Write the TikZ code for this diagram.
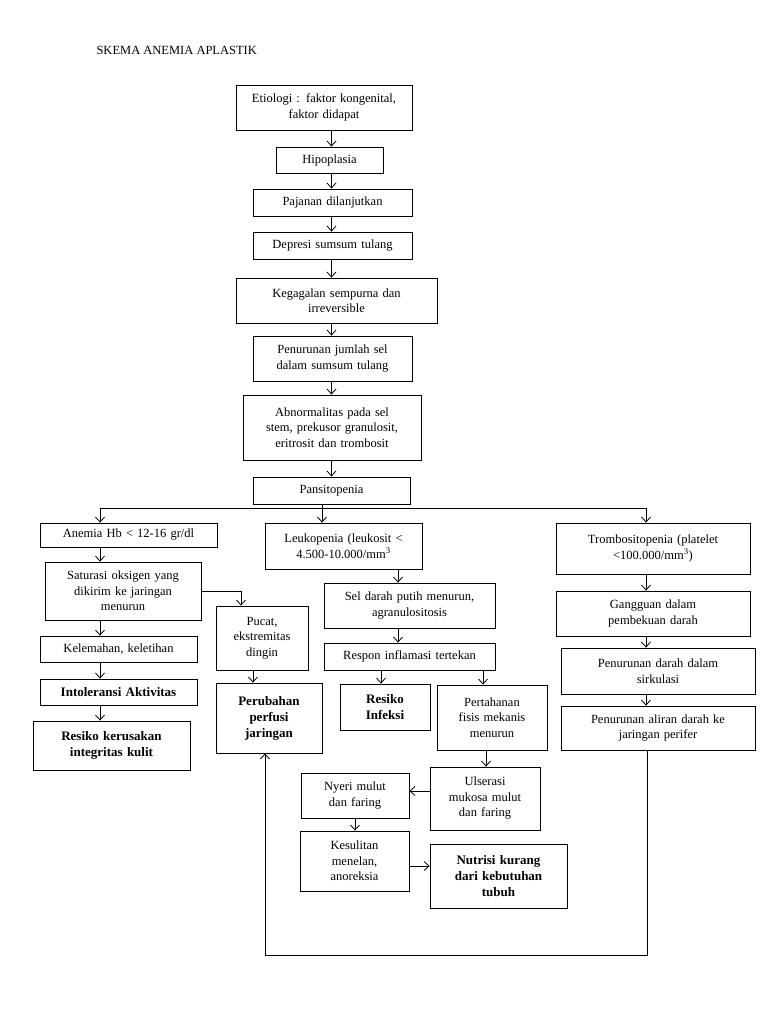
\documentclass[tikz,border=0pt]{standalone}
\usepackage{fontspec}
\setmainfont{Liberation Serif}
\usetikzlibrary{positioning}

\tikzset{
    box/.style={draw,thick,align=center,inner sep=1pt,font=\fontsize{12.5}{15.5}\selectfont},
    tebal/.style={box,font=\fontsize{13}{16}\selectfont\bfseries},
    panah/.style={thick,->,>={Straight Barb[length=5pt,width=9pt]}}
}
\usetikzlibrary{arrows.meta}

% kotak dari sudut kiri-atas (x1,y1) ke kanan-bawah (x2,y2), dalam piksel
\newcommand{\kotak}[7][box]{%
    \node[#1,minimum width={#4-#2},minimum height={#5-#3},text width={#4-#2-10}]
        (#6) at ({(#2+#4)/2},{(#3+#5)/2}) {#7};}

\begin{document}
\begin{tikzpicture}[x=1pt,y=-1pt]
    \useasboundingbox (0,0) rectangle (768,1024);
    \node[anchor=west,font=\fontsize{12.5}{15}\selectfont] (judul) at (93,50) {SKEMA ANEMIA APLASTIK};

    % jalur utama
    \kotak{236}{85}{412}{130}{etio}{Etiologi : faktor kongenital,\\ faktor didapat}
    \kotak{276}{147}{383}{173}{hipo}{Hipoplasia}
    \kotak{253}{189}{412}{216}{pajan}{Pajanan dilanjutkan}
    \kotak{253}{232}{412}{259}{depresi}{Depresi sumsum tulang}
    \kotak{236}{278}{437}{323}{gagal}{Kegagalan sempurna dan\\ irreversible}
    \kotak{253}{336}{412}{381}{turun}{Penurunan jumlah sel\\ dalam sumsum tulang}
    \kotak{243}{395}{421}{460}{abnorm}{Abnormalitas pada sel\\ stem, prekusor granulosit,\\ eritrosit dan trombosit}
    \kotak{253}{477}{410}{504}{pansi}{Pansitopenia}

    % cabang anemia
    \kotak{40}{523}{217}{547}{anemia}{Anemia Hb < 12-16 gr/dl}
    \kotak{45}{562}{201}{620}{satur}{Saturasi oksigen yang\\ dikirim ke jaringan\\ menurun}
    \kotak{40}{636}{197}{662}{lemah}{Kelemahan, keletihan}
    \kotak[tebal]{40}{679}{197}{705}{intol}{Intoleransi Aktivitas}
    \kotak[tebal]{33}{721}{190}{770}{kulit}{Resiko kerusakan\\ integritas kulit}
    \kotak{216}{606}{308}{670}{pucat}{Pucat,\\ ekstremitas\\ dingin}
    \kotak[tebal]{216}{683}{322}{753}{perfusi}{Perubahan\\ perfusi\\ jaringan}

    % cabang leukopenia
    \kotak{265}{523}{422}{569}{leuko}{Leukopenia (leukosit <\\ 4.500-10.000/mm\textsuperscript{3}}
    \kotak{324}{583}{495}{628}{putih}{Sel darah putih menurun,\\ agranulositosis}
    \kotak{324}{643}{495}{670}{respon}{Respon inflamasi tertekan}
    \kotak[tebal]{340}{684}{430}{730}{infeksi}{Resiko\\ Infeksi}
    \kotak{437}{685}{547}{750}{tahan}{Pertahanan\\ fisis mekanis\\ menurun}
    \kotak{430}{767}{540}{830}{ulser}{Ulserasi\\ mukosa mulut\\ dan faring}
    \kotak{301}{773}{409}{818}{nyeri}{Nyeri mulut\\ dan faring}
    \kotak{300}{831}{409}{891}{telan}{Kesulitan\\ menelan,\\ anoreksia}
    \kotak[tebal]{430}{844}{567}{908}{nutrisi}{Nutrisi kurang\\ dari kebutuhan\\ tubuh}

    % cabang trombositopenia
    \kotak{556}{523}{750}{574}{trombo}{Trombositopenia (platelet\\ <100.000/mm\textsuperscript{3})}
    \kotak{556}{591}{750}{636}{ganggu}{Gangguan dalam\\ pembekuan darah}
    \kotak{561}{648}{755}{694}{sirkul}{Penurunan darah dalam\\ sirkulasi}
    \kotak{561}{706}{755}{750}{aliran}{Penurunan aliran darah ke\\ jaringan perifer}

    % panah jalur utama
    \foreach \a/\b in {etio/hipo,hipo/pajan,pajan/depresi,depresi/gagal,
                       gagal/turun,turun/abnorm,abnorm/pansi}
        \draw[panah] (\a.south-|pansi) -- (\b.north-|pansi);

    % percabangan
    \coordinate (cab) at (322,508);
    \draw[thick] (pansi.south-|cab) -- (cab);
    \draw[thick] (100,508) -- (646,508);
    \draw[panah] (100,508) -- (anemia.north-|100,0);
    \draw[panah] (cab) -- (leuko.north-|cab);
    \draw[panah] (646,508) -- (trombo.north-|646,0);

    \foreach \a/\b in {anemia/satur,satur/lemah,lemah/intol,intol/kulit}
        \draw[panah] (\a.south-|100,0) -- (\b.north-|100,0);
    \draw[panah] (satur.east|-0,591) -| (pucat.north-|241,0);
    \draw[panah] (pucat.south-|253,0) -- (perfusi.north-|253,0);

    \draw[panah] (leuko.south-|398,0) -- (putih.north-|398,0);
    \draw[panah] (putih.south-|398,0) -- (respon.north-|398,0);
    \draw[panah] (respon.south-|381,0) -- (infeksi.north-|381,0);
    \draw[panah] (respon.south-|483,0) -- (tahan.north-|483,0);
    \draw[panah] (tahan.south-|486,0) -- (ulser.north-|486,0);
    \draw[panah] (ulser.west|-0,791) -- (nyeri.east|-0,791);
    \draw[panah] (nyeri.south-|355,0) -- (telan.north-|355,0);
    \draw[panah] (telan.east|-0,866) -- (nutrisi.west|-0,866);

    \foreach \a/\b in {trombo/ganggu,ganggu/sirkul,sirkul/aliran}
        \draw[panah] (\a.south-|646,0) -- (\b.north-|646,0);

    % umpan balik
    \coordinate (balik) at (265,955);
    \draw[panah] (aliran.south-|647,0) |- (balik) -- (perfusi.south-|balik);
\end{tikzpicture}
\end{document}
